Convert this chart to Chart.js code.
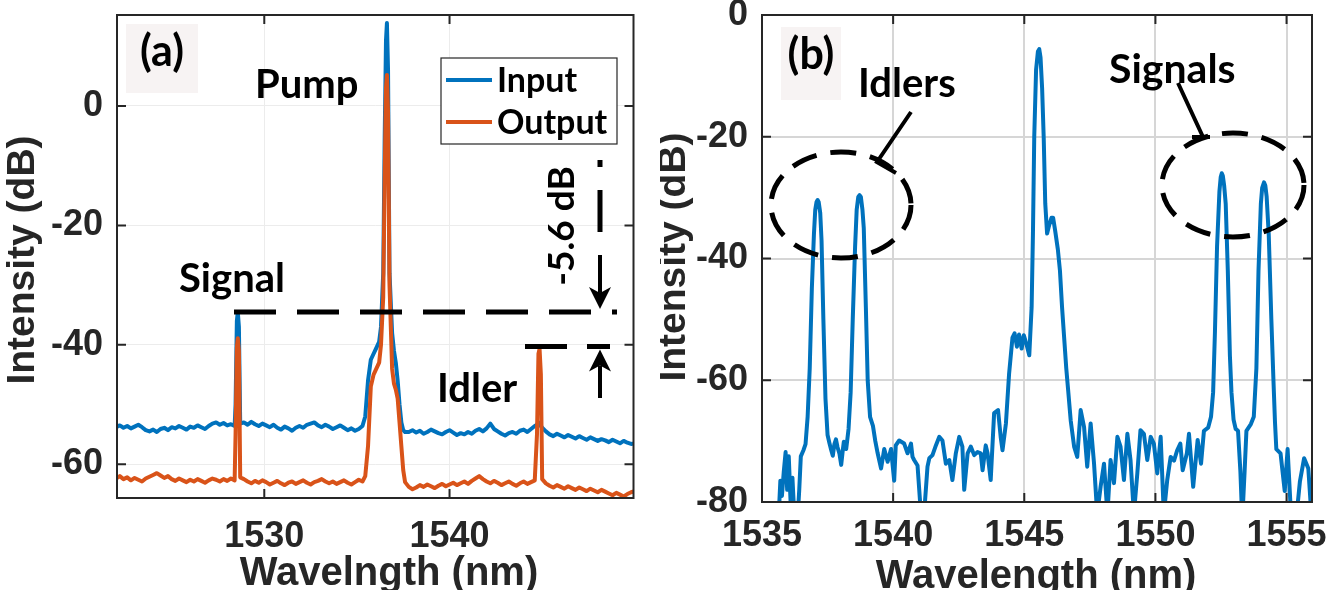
<!DOCTYPE html>
<html>
<head>
<meta charset="utf-8">
<script src="https://cdn.jsdelivr.net/npm/chart.js@4.4.1/dist/chart.umd.min.js"></script>
<style>
  body { margin: 0; background: #fff; }
  #wrap { position: relative; width: 1328px; height: 590px; overflow: hidden; }
  #wrap canvas { position: absolute; top: 0; }
  #chartA { left: 0; }
  #chartB { left: 660px; }
</style>
</head>
<body>
<div id="wrap">
  <canvas id="chartA" width="660" height="590"></canvas>
  <canvas id="chartB" width="668" height="590"></canvas>
</div>
<script>
// ---- panel (a): input / output spectra ----
const wavelengthA = [
  1522.0, 1522.2, 1522.4, 1522.6, 1522.8, 1523.0, 1523.2, 1523.4, 1523.6, 1523.8,
  1524.0, 1524.2, 1524.4, 1524.6, 1524.8, 1525.0, 1525.2, 1525.4, 1525.6, 1525.8,
  1526.0, 1526.2, 1526.4, 1526.6, 1526.8, 1527.0, 1527.2, 1527.4, 1527.6, 1527.8,
  1528.0, 1528.2, 1528.4,
  1528.45, 1528.52, 1528.57, 1528.63, 1528.7,
  1528.9, 1529.1, 1529.3, 1529.5, 1529.7, 1529.9, 1530.1, 1530.3, 1530.5, 1530.7,
  1530.9, 1531.1, 1531.3, 1531.5, 1531.7, 1531.9, 1532.1, 1532.3, 1532.5, 1532.7,
  1532.9, 1533.1, 1533.3, 1533.5, 1533.7, 1533.9, 1534.1, 1534.3, 1534.5, 1534.7,
  1534.9, 1535.1, 1535.3,
  1535.45, 1535.6, 1535.75, 1535.9, 1536.05, 1536.2, 1536.3, 1536.42, 1536.5, 1536.57,
  1536.62, 1536.68, 1536.76, 1536.9, 1537.0, 1537.1, 1537.2, 1537.3, 1537.4, 1537.5, 1537.6,
  1537.8, 1538.0, 1538.2, 1538.4, 1538.6, 1538.8, 1539.0, 1539.2, 1539.4, 1539.6,
  1539.8, 1540.0, 1540.2, 1540.4, 1540.6, 1540.8, 1541.0, 1541.2, 1541.4, 1541.6,
  1541.8, 1542.0, 1542.2, 1542.4, 1542.6, 1542.8, 1543.0, 1543.2, 1543.4, 1543.6,
  1543.8, 1544.0, 1544.2, 1544.4, 1544.6,
  1544.72, 1544.8, 1544.86, 1544.93, 1545.0,
  1545.2, 1545.4, 1545.6, 1545.8, 1546.0, 1546.2, 1546.4, 1546.6, 1546.8, 1547.0,
  1547.2, 1547.4, 1547.6, 1547.8, 1548.0, 1548.2, 1548.4, 1548.6, 1548.8, 1549.0,
  1549.2, 1549.4, 1549.6, 1549.8, 1550.0
];
const inputA = [
  -53.8, -53.5, -53.9, -53.6, -54.0, -53.7, -53.4, -53.8, -54.3, -54.5,
  -54.2, -54.6, -54.1, -53.9, -54.3, -53.8, -54.0, -53.6, -53.9, -54.2,
  -53.7, -53.9, -53.5, -53.8, -54.1, -53.6, -53.2, -53.0, -53.4, -53.1,
  -53.5, -53.3, -53.6,
  -50, -36, -34.5, -37, -53.2,
  -53.0, -53.4, -52.9, -53.3, -53.6, -53.2, -53.5, -53.8, -53.4, -53.9,
  -54.2, -53.7, -54.0, -54.4, -53.9, -53.6, -53.9, -53.4, -53.2, -53.0,
  -53.5, -53.8, -53.4, -53.7, -54.1, -53.8, -53.5, -53.9, -54.3, -54.0,
  -54.4, -54.1, -53.6,
  -52, -46, -42.5, -41.5, -40.5, -39.5, -37, -28, -5, 11,
  13.9, 6, -28, -38, -41, -43, -46, -50, -53, -54.3, -54.6,
  -54.6, -54.3, -54.7, -54.4, -54.9, -54.6, -54.2, -54.5, -54.8, -55.0,
  -54.6, -54.3, -54.7, -55.1, -54.8, -55.0, -54.6, -54.9, -54.4, -54.1,
  -54.5, -54.0, -53.2, -54.1, -54.5, -54.9, -55.2, -54.8, -54.6, -54.9,
  -54.4, -54.2, -54.6, -54.1, -53.6,
  -53.4, -53.0, -53.2, -53.6, -53.9,
  -54.5, -55.0, -55.3, -54.9, -55.2, -55.5, -55.1, -55.4, -55.7, -55.3,
  -55.6, -55.9, -55.5, -55.8, -56.1, -55.8, -56.0, -56.3, -55.9, -56.2,
  -56.5, -56.1, -56.4, -56.6, -56.5
];
const outputA = [
  -62.4, -62.0, -62.5, -62.2, -62.7, -62.3, -62.6, -62.9, -62.4, -62.1,
  -61.8, -61.5, -61.9, -62.3, -62.0, -62.5, -62.8, -62.4, -62.7, -63.0,
  -62.6, -62.9, -62.5, -62.8, -63.1, -62.7, -62.4, -62.6, -62.9, -62.5,
  -62.8, -62.4, -62.7,
  -55, -40.5, -38.9, -41, -62.2,
  -62.5, -62.9, -63.2, -62.8, -63.1, -62.7, -63.0, -63.4, -63.1, -62.8,
  -63.2, -63.5, -63.1, -62.9, -63.3, -63.0, -62.7, -63.1, -63.4, -63.0,
  -62.8, -62.5, -62.9, -63.2, -62.9, -63.3, -63.0, -62.7, -63.1, -63.4,
  -63.0, -62.6, -62.9,
  -62, -57, -47, -45, -44, -43, -40, -32, -12, 3,
  5.2, -1, -30, -44, -46.5, -47.5, -49, -53, -57, -61, -63,
  -63.8, -64.2, -63.9, -63.5, -63.8, -63.4, -63.7, -64.0, -63.6, -63.3,
  -63.7, -63.4, -63.1, -63.5, -63.2, -62.9, -63.3, -62.8, -62.4, -62.0,
  -62.5, -62.9, -63.2, -62.8, -63.1, -63.5, -63.2, -62.9, -63.3, -63.6,
  -63.2, -62.9, -63.3, -63.0, -62.7,
  -55, -41.5, -40.7, -45, -62.5,
  -63.2, -63.6, -63.9, -63.5, -63.8, -64.1, -63.7, -64.0, -64.3, -63.9,
  -64.2, -64.5, -64.1, -64.4, -64.7, -64.3, -64.6, -64.9, -65.2, -64.8,
  -65.1, -65.4, -65.0, -64.7, -64.5
];
const xTicksA = [1530, 1540];
const yTicksA = [0, -20, -40, -60];

// ---- panel (b): idlers and signals ----
const wavelengthB = [
  1535.64, 1535.70, 1535.76, 1535.83, 1535.90, 1535.96, 1536.02, 1536.09, 1536.16, 1536.24,
  1536.34, 1536.42, 1536.48, 1536.58, 1536.66, 1536.74, 1536.82, 1536.90, 1536.98, 1537.03,
  1537.08, 1537.12, 1537.16, 1537.22, 1537.27, 1537.34, 1537.42, 1537.50, 1537.57, 1537.64,
  1537.70, 1537.76, 1537.82, 1537.88, 1537.95, 1538.02, 1538.08, 1538.12, 1538.21, 1538.30,
  1538.38, 1538.46, 1538.55, 1538.61, 1538.67, 1538.72, 1538.77, 1538.83, 1538.88, 1538.96,
  1539.03, 1539.12, 1539.23, 1539.32, 1539.41, 1539.54, 1539.66, 1539.79, 1539.92, 1540.04,
  1540.10, 1540.23, 1540.42, 1540.55, 1540.68, 1540.74, 1540.80, 1540.93, 1541.06, 1541.18,
  1541.31, 1541.38, 1541.50, 1541.63, 1541.76, 1541.88, 1542.01, 1542.14, 1542.26, 1542.39,
  1542.52, 1542.64, 1542.71, 1542.84, 1542.96, 1543.09, 1543.22, 1543.34, 1543.41, 1543.53,
  1543.60, 1543.72, 1543.85, 1544.00, 1544.10, 1544.17, 1544.30, 1544.42, 1544.55, 1544.63,
  1544.72, 1544.80, 1544.90, 1544.98, 1545.08, 1545.19, 1545.28, 1545.33, 1545.38, 1545.45,
  1545.52, 1545.57, 1545.62, 1545.68, 1545.74, 1545.80, 1545.87, 1545.95, 1546.04, 1546.10,
  1546.18, 1546.28, 1546.36, 1546.44, 1546.52, 1546.60, 1546.67, 1546.77, 1546.90, 1547.02,
  1547.15, 1547.28, 1547.40, 1547.53, 1547.66, 1547.78, 1547.91, 1548.04, 1548.17, 1548.29,
  1548.42, 1548.55, 1548.67, 1548.80, 1548.93, 1549.05, 1549.18, 1549.31, 1549.43, 1549.56,
  1549.69, 1549.82, 1549.94, 1550.07, 1550.20, 1550.32, 1550.45, 1550.58, 1550.71, 1550.83,
  1550.95, 1551.04, 1551.20, 1551.28, 1551.44, 1551.61, 1551.74, 1551.85, 1552.01, 1552.12,
  1552.20, 1552.27, 1552.35, 1552.44, 1552.49, 1552.53, 1552.57, 1552.62, 1552.68, 1552.76,
  1552.84, 1552.90, 1552.98, 1553.06, 1553.15, 1553.24, 1553.31, 1553.40, 1553.47, 1553.64,
  1553.75, 1553.85, 1553.93, 1554.02, 1554.07, 1554.14, 1554.19, 1554.24, 1554.32, 1554.42,
  1554.50, 1554.56, 1554.61, 1554.77, 1554.93, 1555.04, 1555.18, 1555.34, 1555.51, 1555.67,
  1555.83, 1555.96
];
const intensityB = [
  -82, -76.5, -79, -75, -71.8, -78, -72.5, -80, -76, -83,
  -84, -78, -72.5, -71.5, -70.5, -66, -58, -45, -36, -32,
  -30.7, -30.4, -30.7, -32.5, -37, -50, -63, -69, -70.3, -71.5,
  -72.4, -70.5, -69.7, -71, -72, -73.9, -71.5, -70.1, -71.3, -68,
  -62, -50, -38, -32, -29.9, -29.6, -29.9, -32, -35, -48,
  -60, -66, -67.5, -70, -72, -74.5, -71.3, -73.4, -71.3, -76.5,
  -70.7, -69.9, -70.4, -72, -70.4, -72.6, -73.1, -74, -82, -82,
  -74.2, -72.8, -72.3, -70.7, -69.3, -69.9, -73.7, -73.1, -76.4, -72,
  -69.3, -70.9, -78, -72, -70.9, -72.3, -71.8, -72, -74.8, -70.7,
  -72, -76.4, -65.4, -64.9, -69.3, -71.5, -67.1, -59, -53, -52.3,
  -54.5, -52.5, -54.8, -52.6, -54, -55.9, -48, -36, -20, -9,
  -6, -5.6, -7, -12, -20, -31, -35.9, -34.5, -33.3, -33.3,
  -35.5, -38.5, -42, -48, -53, -58, -61.5, -66.6, -70.9, -72.6,
  -64.9, -67.7, -74.2, -67.1, -73.7, -82, -77.5, -73.7, -82, -73.1,
  -76.9, -69.3, -70.9, -76.4, -68.8, -73.1, -82, -75.3, -68.2, -68.8,
  -73.1, -69.3, -70.4, -75.3, -69.3, -82, -76.4, -72.6, -73.2, -71.5,
  -70.4, -74.8, -72, -68.8, -77.5, -69.8, -73.7, -68.3, -67.8, -66,
  -62, -52, -38, -29, -26.6, -26, -26.4, -28, -31, -42,
  -56, -62, -66.5, -68, -68.3, -75, -83, -75, -68.3, -67.2,
  -66, -58, -42, -31, -28.4, -27.5, -28, -29.8, -36, -50,
  -60, -67, -71.3, -72, -78.2, -71.3, -83, -84, -76.6, -72.8,
  -74.5, -83
];
const xTicksB = [1535, 1540, 1545, 1550, 1555];
const yTicksB = [0, -20, -40, -60, -80];

const BLUE = '#0072bd';
const ORANGE = '#d95319';
const INK = '#262626';
const SANS = "'Liberation Sans', Arial, sans-serif";
const NOTE = "Lato, 'Open Sans', sans-serif";
const TICK_FONT = { family: SANS, size: 36, weight: 'bold', lineHeight: 1.2 };

function toPoints(xs, ys) {
  return xs.map((x, i) => ({ x: x, y: ys[i] }));
}

// scales with fixed box sizes so the plot area lands where the figure has it
function makeScales(o) {
  return {
    x: {
      type: 'linear', min: o.xmin, max: o.xmax,
      afterBuildTicks: s => { s.ticks = o.xticks.map(v => ({ value: v })); },
      afterFit: s => { s.height = o.xh; s.paddingLeft = 0; s.paddingRight = 0; },
      grid: { color: o.grid, lineWidth: o.gridW, drawTicks: false },
      border: { display: false },
      ticks: { font: TICK_FONT, color: INK, padding: o.xpad, maxRotation: 0, autoSkip: false, callback: v => String(v) }
    },
    y: {
      type: 'linear', min: o.ymin, max: o.ymax,
      afterBuildTicks: s => { s.ticks = o.yticks.map(v => ({ value: v })); },
      afterFit: s => { s.width = o.yw; s.paddingTop = 0; s.paddingBottom = 0; },
      grid: { color: o.grid, lineWidth: o.gridW, drawTicks: false },
      border: { display: false },
      ticks: { font: TICK_FONT, color: INK, padding: o.ypad, autoSkip: false, callback: v => String(v) }
    }
  };
}

function drawFrame(chart) {
  const ctx = chart.ctx, a = chart.chartArea;
  const sx = chart.scales.x, sy = chart.scales.y;
  ctx.save();
  ctx.strokeStyle = INK;
  ctx.lineWidth = 2;
  ctx.beginPath();
  sx.ticks.forEach(t => {
    const p = sx.getPixelForValue(t.value);
    ctx.moveTo(p, a.bottom); ctx.lineTo(p, a.bottom - 9);
    ctx.moveTo(p, a.top); ctx.lineTo(p, a.top + 9);
  });
  sy.ticks.forEach(t => {
    const p = sy.getPixelForValue(t.value);
    ctx.moveTo(a.left, p); ctx.lineTo(a.left + 9, p);
    ctx.moveTo(a.right, p); ctx.lineTo(a.right - 9, p);
  });
  ctx.stroke();
  ctx.strokeRect(a.left, a.top, a.right - a.left, a.bottom - a.top);
  ctx.restore();
}

function axisTitles(ctx, xText, xc, xBase, yBase, yc) {
  ctx.save();
  ctx.fillStyle = INK;
  ctx.textAlign = 'center';
  ctx.textBaseline = 'alphabetic';
  ctx.font = 'bold 40px ' + SANS;
  ctx.fillText(xText, xc, xBase);
  ctx.font = 'bold 39px ' + SANS;
  ctx.translate(yBase, yc);
  ctx.rotate(-Math.PI / 2);
  ctx.fillText('Intensity (dB)', 0, 0);
  ctx.restore();
}

function note(ctx, s, x, y, size, align) {
  ctx.font = 'bold ' + size + 'px ' + NOTE;
  ctx.textAlign = align || 'left';
  ctx.textBaseline = 'alphabetic';
  ctx.fillText(s, x, y);
}

function tag(ctx, s, x, y, w, h) {
  ctx.fillStyle = '#f7f3f3';
  ctx.fillRect(x, y, w, h);
  ctx.fillStyle = '#000';
  note(ctx, s, x + w / 2, y + 42, 43, 'center');
}

function arrow(ctx, x, yFrom, yTo) {
  const dir = Math.sign(yTo - yFrom);
  ctx.beginPath();
  ctx.moveTo(x, yFrom);
  ctx.lineTo(x, yTo - dir * 16);
  ctx.stroke();
  ctx.beginPath();
  ctx.moveTo(x, yTo);
  ctx.lineTo(x - 11, yTo - dir * 22);
  ctx.lineTo(x, yTo - dir * 16);
  ctx.lineTo(x + 11, yTo - dir * 22);
  ctx.closePath();
  ctx.fill();
}

function notesA(chart) {
  const ctx = chart.ctx;
  const sy = chart.scales.y;
  ctx.save();
  tag(ctx, '(a)', 126, 24, 72, 69);
  ctx.fillStyle = '#000';
  note(ctx, 'Pump', 255, 98, 40);
  note(ctx, 'Signal', 179, 292, 40);
  note(ctx, 'Idler', 437, 402, 40);

  // legend box
  ctx.fillStyle = '#fff';
  ctx.fillRect(441, 58, 176, 86);
  ctx.strokeStyle = INK;
  ctx.lineWidth = 1.2;
  ctx.strokeRect(441, 58, 176, 86);
  chart.data.datasets.forEach((ds, i) => {
    const y = 80 + i * 42;
    ctx.strokeStyle = ds.borderColor;
    ctx.lineWidth = 4;
    ctx.beginPath(); ctx.moveTo(446, y); ctx.lineTo(492, y); ctx.stroke();
    ctx.fillStyle = '#000';
    note(ctx, ds.label, 497, y + 12, 34);
  });

  // conversion-efficiency marker: dashed levels at signal in and idler out
  const ySig = sy.getPixelForValue(-34.5);
  const yIdl = sy.getPixelForValue(-40.3);
  ctx.strokeStyle = '#000';
  ctx.fillStyle = '#000';
  ctx.lineWidth = 5;
  ctx.setLineDash([42, 21]);
  ctx.beginPath(); ctx.moveTo(234, ySig); ctx.lineTo(617, ySig); ctx.stroke();
  ctx.setLineDash([42, 20]);
  ctx.beginPath(); ctx.moveTo(525, yIdl); ctx.lineTo(610, yIdl); ctx.stroke();
  ctx.setLineDash([7, 23, 42, 100]);
  ctx.beginPath(); ctx.moveTo(600, 160); ctx.lineTo(600, 240); ctx.stroke();
  ctx.setLineDash([]);
  ctx.lineWidth = 4;
  arrow(ctx, 600, 255, ySig - 3);
  arrow(ctx, 600, 398, yIdl + 3);

  ctx.save();
  ctx.translate(574, 226);
  ctx.rotate(-Math.PI / 2);
  note(ctx, '-5.6 dB', 0, 0, 37, 'center');
  ctx.restore();

  ctx.restore();
}

function notesB(chart) {
  const ctx = chart.ctx;
  ctx.save();
  tag(ctx, '(b)', 121, 27, 60, 73);
  ctx.fillStyle = '#000';
  note(ctx, 'Idlers', 198, 97, 40);
  note(ctx, 'Signals', 449, 83, 41);

  ctx.strokeStyle = '#000';
  ctx.lineWidth = 5;
  ctx.setLineDash([26, 14]);
  ctx.beginPath(); ctx.ellipse(181, 205, 70, 53, 0, 0, Math.PI * 2); ctx.stroke();
  ctx.beginPath(); ctx.ellipse(573, 185, 71, 52, 0, 0, Math.PI * 2); ctx.stroke();
  ctx.setLineDash([]);
  ctx.lineWidth = 4;
  ctx.beginPath();
  ctx.moveTo(251, 112); ctx.lineTo(217, 162); ctx.lineTo(236, 173);
  ctx.stroke();
  ctx.beginPath();
  ctx.moveTo(518, 83); ctx.lineTo(543, 137);
  ctx.moveTo(532, 137); ctx.lineTo(550, 137);
  ctx.stroke();
  ctx.restore();
}

const lineStyle = { borderWidth: 4, pointRadius: 0, borderJoinStyle: 'round', borderCapStyle: 'round', clip: 0 };

const chartA = new Chart(document.getElementById('chartA'), {
  type: 'line',
  data: {
    datasets: [
      Object.assign({ label: 'Input', data: toPoints(wavelengthA, inputA), borderColor: BLUE, order: 1 }, lineStyle),
      Object.assign({ label: 'Output', data: toPoints(wavelengthA, outputA), borderColor: ORANGE, order: 0 }, lineStyle)
    ]
  },
  options: {
    responsive: false,
    animation: false,
    devicePixelRatio: 1,
    layout: { padding: { left: 0, right: 26.5, top: 15, bottom: 0 } },
    scales: makeScales({
      xmin: 1522.05, xmax: 1549.93, xticks: xTicksA, xh: 92, xpad: 17,
      ymin: -65.66, ymax: 15.24, yticks: yTicksA, yw: 117, ypad: 14,
      grid: '#ececec', gridW: 1
    }),
    plugins: { legend: { display: false }, tooltip: { enabled: false } }
  },
  plugins: [{
    id: 'notesA',
    afterDraw(chart) {
      drawFrame(chart);
      notesA(chart);
      axisTitles(chart.ctx, 'Wavelngth (nm)', 389, 585, 34, 260);
    }
  }]
});

const chartB = new Chart(document.getElementById('chartB'), {
  type: 'line',
  data: {
    datasets: [
      Object.assign({ label: 'Spectrum', data: toPoints(wavelengthB, intensityB), borderColor: BLUE }, lineStyle)
    ]
  },
  options: {
    responsive: false,
    animation: false,
    devicePixelRatio: 1,
    layout: { padding: { left: 0, right: 16, top: 15, bottom: 0 } },
    scales: makeScales({
      xmin: 1535, xmax: 1555.97, xticks: xTicksB, xh: 88, xpad: 12,
      ymin: -80, ymax: 0, yticks: yTicksB, yw: 102, ypad: 14,
      grid: '#d6d6d6', gridW: 2
    }),
    plugins: { legend: { display: false }, tooltip: { enabled: false } }
  },
  plugins: [{
    id: 'notesB',
    afterDraw(chart) {
      drawFrame(chart);
      notesB(chart);
      axisTitles(chart.ctx, 'Wavelength (nm)', 376, 588, 25, 257);
    }
  }]
});
</script>
</body>
</html>
